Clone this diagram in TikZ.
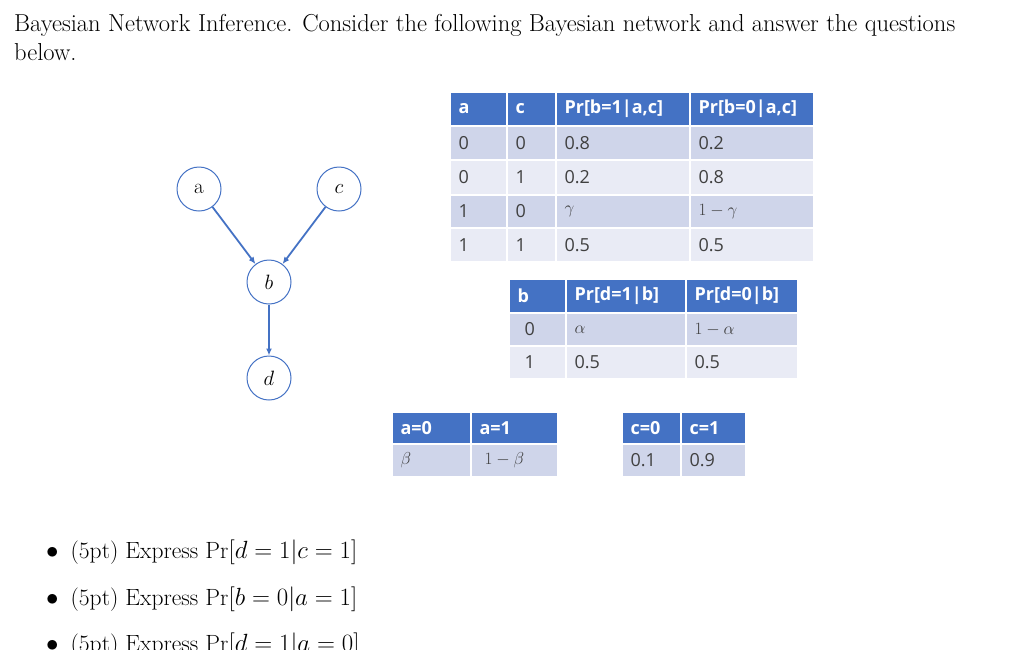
\documentclass[tikz,border=0pt]{standalone}
\usepackage{fontspec}
\usepackage{amsmath}
\usetikzlibrary{arrows.meta}
\newfontfamily\tabfont{Open Sans}
\definecolor{hdr}{HTML}{4472C4}
\definecolor{rowA}{HTML}{CFD5EA}
\definecolor{rowB}{HTML}{E9EBF5}
\definecolor{edgeblue}{HTML}{4472C4}
\definecolor{txt}{HTML}{404040}
\newcommand{\tcell}[6]{\fill[#5,draw=white,line width=1.5pt] (#1,#2) rectangle (#3,#4);
  \node[anchor=west,font=\tabfont\fontsize{18}{20}\selectfont,text=txt] at (#1+5,{(#2+#4)/2}) {#6};}
\newcommand{\hcell}[5]{\fill[hdr,draw=white,line width=1.5pt] (#1,#2) rectangle (#3,#4);
  \node[anchor=west,font=\tabfont\bfseries\fontsize{18}{20}\selectfont,text=white] at (#1+5,{(#2+#4)/2}) {#5};}
\begin{document}
\begin{tikzpicture}[x=1pt,y=-1pt,
  bnode/.style={circle,draw=edgeblue,line width=1pt,minimum size=44pt,inner sep=0pt,font=\fontsize{21}{23}\selectfont},
  bedge/.style={-{Latex[length=7pt,width=6pt]},draw=edgeblue,line width=1.8pt},
  body/.style={font=\fontsize{24.5}{28}\selectfont,anchor=base west,inner sep=0pt},
  qline/.style={font=\fontsize{23.5}{28}\selectfont,anchor=base west,inner sep=0pt}]
\useasboundingbox (0,0) rectangle (1024,649);
\clip (0,0) rectangle (1024,649);
\node[body] (t1) at (14,31) {Bayesian Network Inference. Consider the following Bayesian network and answer the questions};
\node[body] (t2) at (14,60) {below.};
% graph
\node[bnode] (a) at (199,189) {a};
\node[bnode] (c) at (339,189) {$c$};
\node[bnode] (b) at (269,282) {$b$};
\node[bnode] (d) at (269,378) {$d$};
\draw[bedge] (a) -- (b);
\draw[bedge] (c) -- (b);
\draw[bedge] (b) -- (d);
% table 1
\hcell{450}{92}{507}{126}{a}\hcell{507}{92}{556}{126}{c}\hcell{556}{92}{690}{126}{Pr[b=1|a,c]}\hcell{690}{92}{814}{126}{Pr[b=0|a,c]}
\tcell{450}{126}{507}{160}{rowA}{0}\tcell{507}{126}{556}{160}{rowA}{0}\tcell{556}{126}{690}{160}{rowA}{0.8}\tcell{690}{126}{814}{160}{rowA}{0.2}
\tcell{450}{160}{507}{195}{rowB}{0}\tcell{507}{160}{556}{195}{rowB}{1}\tcell{556}{160}{690}{195}{rowB}{0.2}\tcell{690}{160}{814}{195}{rowB}{0.8}
\tcell{450}{195}{507}{228}{rowA}{1}\tcell{507}{195}{556}{228}{rowA}{0}\tcell{556}{195}{690}{228}{rowA}{$\gamma$}\tcell{690}{195}{814}{228}{rowA}{$1-\gamma$}
\tcell{450}{228}{507}{262}{rowB}{1}\tcell{507}{228}{556}{262}{rowB}{1}\tcell{556}{228}{690}{262}{rowB}{0.5}\tcell{690}{228}{814}{262}{rowB}{0.5}
% table 2
\hcell{509}{279}{566}{313}{b}\hcell{566}{279}{686}{313}{Pr[d=1|b]}\hcell{686}{279}{798}{313}{Pr[d=0|b]}
\tcell{509}{313}{566}{346}{rowA}{\hspace{7pt}0}\tcell{566}{313}{686}{346}{rowA}{$\alpha$}\tcell{686}{313}{798}{346}{rowA}{$1-\alpha$}
\tcell{509}{346}{566}{379}{rowB}{\hspace{7pt}1}\tcell{566}{346}{686}{379}{rowB}{0.5}\tcell{686}{346}{798}{379}{rowB}{0.5}
% table 3
\hcell{392}{412}{471}{444}{a=0}\hcell{471}{412}{558}{444}{a=1}
\tcell{392}{444}{471}{477}{rowA}{$\beta$}\tcell{471}{444}{558}{477}{rowA}{\hspace{5pt}$1-\beta$}
% table 4
\hcell{622}{412}{681}{444}{c=0}\hcell{681}{412}{746}{444}{c=1}
\tcell{622}{444}{681}{477}{rowA}{0.1}\tcell{681}{444}{746}{477}{rowA}{0.9}
% bullets
\node[qline] (q1) at (46,558) {$\bullet$\hspace{12pt}(5pt) Express $\Pr[d=1|c=1]$};
\node[qline] (q2) at (46,605) {$\bullet$\hspace{12pt}(5pt) Express $\Pr[b=0|a=1]$};
\node[qline] (q3) at (46,651) {$\bullet$\hspace{12pt}(5pt) Express $\Pr[d=1|a=0]$};
\end{tikzpicture}
\end{document}
